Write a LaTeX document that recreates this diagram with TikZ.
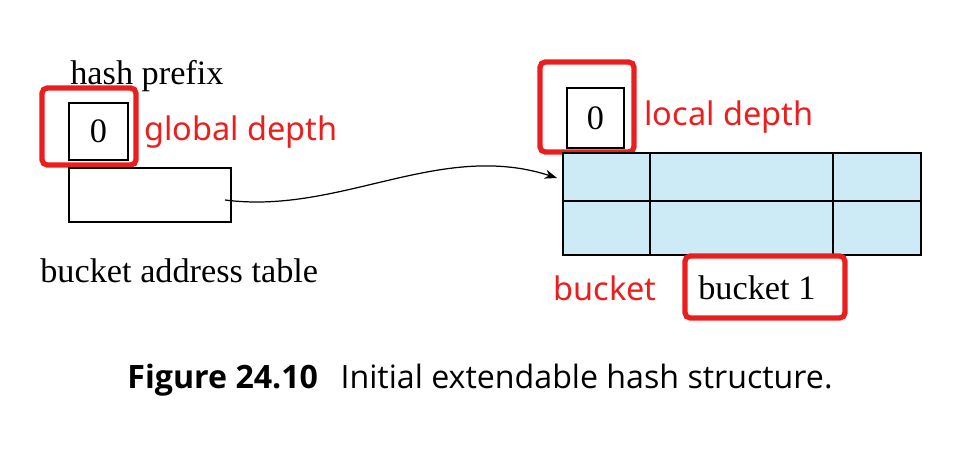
\documentclass[tikz,border=0pt]{standalone}
\usepackage{fontspec}
\usetikzlibrary{arrows.meta}
\setmainfont{Liberation Serif}
\newfontfamily\redfont{Noto Sans}
\newfontfamily\capfont{Open Sans}
\definecolor{hl}{RGB}{235,30,30}
\definecolor{cell}{RGB}{205,234,247}
\begin{document}
\begin{tikzpicture}[x=0.02cm,y=-0.02cm,
  box/.style={draw,line width=0.7pt},
  redmark/.style={draw=hl,line width=3pt,rounded corners=3pt},
  lbl/.style={font=\fontsize{19.5}{22}\selectfont,inner sep=0pt},
  rlbl/.style={text=hl,font=\redfont\fontsize{18.5}{21}\selectfont,inner sep=0pt,anchor=west}]
\useasboundingbox (0,0) rectangle (968,452);
\draw[box] (69,103) rectangle (128,160);
\node[lbl] (g0) at (98.5,131) {0};
\draw[redmark] (42,88) rectangle (136,165);
\node[rlbl] (gd) at (144,132) {global depth};
\node[lbl,anchor=west] (hp) at (70,76) {hash prefix};
\draw[box] (69,168) rectangle (231,222);
\coordinate (tab) at (225,200);
\node[lbl,anchor=west] (bat) at (40,271) {bucket address table};
\draw[box] (567,88) rectangle (624,148);
\node[lbl] (l0) at (595.5,118) {0};
\draw[redmark] (540,62) rectangle (634,152);
\node[rlbl] (ld) at (644,117) {local depth};
\draw[box,fill=cell] (563,153) rectangle (921,255);
\draw[box] (563,201) -- (921,201) (650,153) -- (650,255) (833,153) -- (833,255);
\coordinate (bk) at (557,178);
\draw[line width=0.7pt,-{Stealth[length=7pt]}] (tab) .. controls (340,215) and (440,140) .. (bk);
\node[rlbl] (bl) at (553,288) {bucket};
\node[lbl,anchor=west] (b1) at (698,288) {bucket 1};
\draw[redmark] (685,256) rectangle (845,318);
\node[font=\capfont\fontsize{18.3}{22}\selectfont,inner sep=0pt] (cap) at (480,380) {\textbf{Figure 24.10}\hspace{0.7em}Initial extendable hash structure.};
\end{tikzpicture}
\end{document}
